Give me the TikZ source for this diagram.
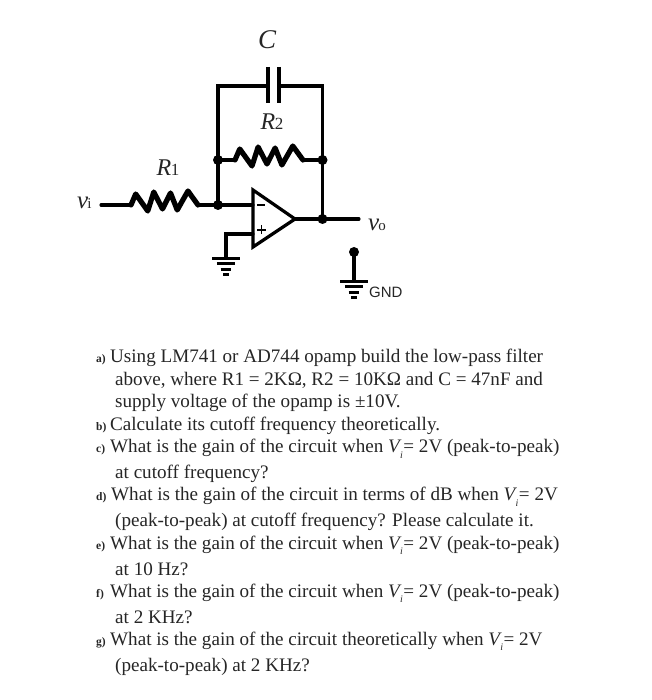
\documentclass[tikz,border=0pt]{standalone}
\usepackage{fontspec}
\setmainfont{Liberation Serif}
\newfontfamily\gndfont{Liberation Sans}
\newcommand{\Vi}{\textit{V}\kern-1.5pt\raisebox{-5.5pt}{\fontsize{10}{10}\selectfont\textit{i}}\kern0.5pt}
\tikzset{
 wire/.style={line width=3.1pt,line cap=round,line join=miter},
 res/.style={line width=5.2pt,line join=round,line cap=round},
 dotn/.style={circle,fill=black,inner sep=0pt,minimum size=10pt},
 lab/.style={inner sep=0pt,anchor=base west,font=\fontsize{19.1}{20}\selectfont,text=black!85},
 tag/.style={inner sep=0pt,anchor=base west,font=\fontsize{11.5}{12}\selectfont\bfseries,text=black!85},
 sym/.style={inner sep=0pt,anchor=base,font=\fontsize{27}{28}\selectfont\itshape,text=black!85}
}
\newcommand{\Rzig}[3]{% start x, end x, y
  \draw[res] (#1,#3) -- ({#1+(#2-#1)*0.07},#3-11) -- ({#1+(#2-#1)*0.25},#3+6) -- ({#1+(#2-#1)*0.34},#3-13) -- ({#1+(#2-#1)*0.47},#3+4) -- ({#1+(#2-#1)*0.59},#3-12) -- ({#1+(#2-#1)*0.69},#3+5) -- ({#1+(#2-#1)*0.85},#3-14) -- (#2,#3);}
\newcommand{\Gnd}[3]{% x, y, half width
  \draw[line width=3pt] (#1-#3,#2) -- (#1+#3,#2);
  \draw[line width=3pt] (#1-#3*0.66,#2+5.5) -- (#1+#3*0.66,#2+5.5);
  \draw[line width=3pt] (#1-#3*0.38,#2+11) -- (#1+#3*0.38,#2+11);
  \fill (#1-#3*0.2,#2+15) rectangle (#1+#3*0.2,#2+18);}
\begin{document}
\begin{tikzpicture}[x=1pt,y=-1pt]
\useasboundingbox (0,0) rectangle (651,700);
\fill[white] (0,0) rectangle (651,700);
% coordinates
\coordinate (tl) at (218,86); \coordinate (tr) at (322.5,86);
\coordinate (capa) at (268,86); \coordinate (capb) at (279,86);
\coordinate (r2a) at (235,160); \coordinate (r2b) at (303,160);
\coordinate (r1a) at (131,205); \coordinate (r1b) at (198,205);
\coordinate (vin) at (101,205);
\coordinate (oaM) at (253,205); \coordinate (oaP) at (253,234); \coordinate (oaO) at (295,219);
\coordinate (vout) at (359,219);
\coordinate (gp) at (226,234); \coordinate (g1) at (226,258);
\coordinate (g2) at (354,281);
\node[dotn] (n1) at (218,205) {};
\node[dotn] (n2) at (218,160) {};
\node[dotn] (n3) at (322.5,160) {};
\node[dotn] (n4) at (322.5,219) {};
\node[dotn] (n5) at (354,252) {};
% capacitor
\draw[wire] (n1.center) -- (n2.center) -- (tl) -- (capa);
\draw[wire] (n4.center) -- (n3.center) -- (tr) -- (capb);
\draw[line width=4.6pt] (268,67) -- (268,103);
\draw[line width=4.6pt] (279,67) -- (279,103);
% R2, R1
\draw[wire] (n2.center) -- (r2a); \draw[wire] (r2b) -- (n3.center);
\Rzig{235}{303}{160}
\draw[wire] (vin) -- (r1a); \draw[wire] (r1b) -- (n1.center) -- (oaM);
\Rzig{131}{198}{205}
% opamp
\draw[line width=3.2pt,line join=miter] (253,190) -- (295,219) -- (253,247) -- cycle;
\draw[line width=1.2pt] (257,205) -- (265,205);
\draw[line width=1.2pt] (257,230) -- (266,230) (261.5,225.5) -- (261.5,234.5);
\draw[wire] (oaO) -- (n4.center) -- (vout);
\draw[wire] (oaP) -- (gp) -- (g1);
\Gnd{226}{258}{14}
\draw[wire] (n5.center) -- (g2);
\Gnd{354}{281}{14}
% labels
\node[sym] (lc) at (267,49) {C};
\node[sym,font=\fontsize{24}{24}\selectfont] (lr2) at (272,130) {\textit{R}\kern-.5pt{\fontsize{17}{17}\selectfont 2}};
\node[sym,font=\fontsize{24}{24}\selectfont] (lr1) at (168,176) {\textit{R}\kern-.5pt{\fontsize{17}{17}\selectfont 1}};
\node[lab,font=\fontsize{25}{25}\selectfont] (lvi) at (77,209) {\textit{v}\kern-1pt{\fontsize{15}{15}\selectfont i}};
\node[lab,font=\fontsize{25}{25}\selectfont] (lvo) at (368,231) {\textit{v}\kern-1pt{\fontsize{15}{15}\selectfont o}};
\node[lab,font=\gndfont\fontsize{15}{15}\selectfont] (lg) at (369,297) {GND};
% text
\node[tag] (ta) at (96,362) {a)};
\node[lab] (t1) at (110,362) {Using LM741 or AD744 opamp build the low-pass filter};
\node[lab] (t2) at (115,385) {above, where R1 = 2KΩ, R2 = 10KΩ and C = 47nF and};
\node[lab] (t3) at (115,407.5) {supply voltage of the opamp is ±10V.};
\node[tag] (tb) at (96,430) {b)};
\node[lab] (t4) at (110,430) {Calculate its cutoff frequency theoretically.};
\node[tag] (tc) at (96,452.5) {c)};
\node[lab] (t5) at (110,452.5) {What is the gain of the circuit when \Vi= 2V (peak-to-peak)};
\node[lab] (t6) at (115,478.5) {at cutoff frequency?};
\node[tag] (td) at (96,500.5) {d)};
\node[lab] (t7) at (111,500.5) {What is the gain of the circuit in terms of dB when \Vi= 2V};
\node[lab] (t8) at (115,526.5) {(peak-to-peak) at cutoff frequency? Please calculate it.};
\node[tag] (te) at (96,549) {e)};
\node[lab] (t9) at (110,549) {What is the gain of the circuit when \Vi= 2V (peak-to-peak)};
\node[lab] (t10) at (115,575) {at 10 Hz?};
\node[tag] (tf) at (96,597) {f)};
\node[lab] (t11) at (110,597) {What is the gain of the circuit when \Vi= 2V (peak-to-peak)};
\node[lab] (t12) at (115,623) {at 2 KHz?};
\node[tag] (tg) at (96,645) {g)};
\node[lab] (t13) at (110,645) {What is the gain of the circuit theoretically when \Vi= 2V};
\node[lab] (t14) at (115,671) {(peak-to-peak) at 2 KHz?};
\end{tikzpicture}
\end{document}
